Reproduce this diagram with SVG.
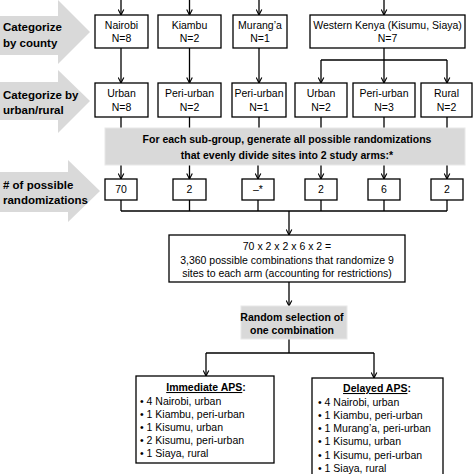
<svg xmlns="http://www.w3.org/2000/svg" width="474" height="474" viewBox="0 0 474 474">
<defs>
<marker id="ah" viewBox="0 0 10 10" refX="9" refY="5" markerWidth="7" markerHeight="7" markerUnits="userSpaceOnUse" orient="auto">
<path d="M1,1 L9,5 L1,9" fill="none" stroke="#000" stroke-width="1.6"/>
</marker>
<style>
.bx{fill:#fff;stroke:#000;stroke-width:1.3}
.gb{fill:#d9d9d9;stroke:#e8e8e8;stroke-width:1}
.ga{fill:#d9d9d9}
.t{font-family:"Liberation Sans",Arial,sans-serif;font-size:10.5px;fill:#000;text-anchor:middle}
.b{font-weight:bold}
.lab{font-family:"Liberation Sans",Arial,sans-serif;font-size:11.5px;font-weight:bold;fill:#000}
.l{font-family:"Liberation Sans",Arial,sans-serif;font-size:10.5px;fill:#000}
.c{fill:none;stroke:#000;stroke-width:1.3}
.ca{fill:none;stroke:#000;stroke-width:1.3;marker-end:url(#ah)}
</style>
</defs>
<rect width="474" height="474" fill="#fff"/>
<g id="step-labels">
<g id="arrow-county"><polygon class="ga" points="0,16 58,16 58,0 90,32 58,64 58,55 0,55"/><text class="lab" x="3" y="31">Categorize</text><text class="lab" x="3" y="47">by county</text></g>
<g id="arrow-urban"><polygon class="ga" points="0,82 58,82 58,70 90,101 58,133 58,120 0,120"/><text class="lab" x="3" y="99">Categorize by</text><text class="lab" x="3" y="114">urban/rural</text></g>
<g id="arrow-random"><polygon class="ga" points="0,172 68,172 68,160 100,191 68,222 68,212 0,212"/><text class="lab" x="3" y="189">&#35; of possible</text><text class="lab" x="3" y="204">randomizations</text></g>
</g>
<g id="connectors">
<line class="ca" x1="121" y1="0" x2="121" y2="15"/>
<line class="ca" x1="189.5" y1="0" x2="189.5" y2="15"/>
<line class="ca" x1="259" y1="0" x2="259" y2="15"/>
<line class="ca" x1="384" y1="0" x2="384" y2="15"/>
<line class="ca" x1="121" y1="48" x2="121" y2="83"/>
<line class="ca" x1="189.5" y1="48" x2="189.5" y2="83"/>
<line class="ca" x1="259" y1="48" x2="259" y2="83"/>
<line class="c" x1="384" y1="48" x2="384" y2="60"/>
<line class="c" x1="321" y1="60" x2="447" y2="60"/>
<line class="ca" x1="321" y1="60" x2="321" y2="83"/>
<line class="ca" x1="384" y1="60" x2="384" y2="83"/>
<line class="ca" x1="447" y1="60" x2="447" y2="83"/>
<line class="c" x1="121" y1="117" x2="121" y2="128"/>
<line class="c" x1="189.5" y1="117" x2="189.5" y2="128"/>
<line class="c" x1="259" y1="117" x2="259" y2="128"/>
<line class="c" x1="321" y1="117" x2="321" y2="128"/>
<line class="c" x1="384" y1="117" x2="384" y2="128"/>
<line class="c" x1="447" y1="117" x2="447" y2="128"/>
<line class="ca" x1="121" y1="165" x2="121" y2="179"/>
<line class="ca" x1="189.5" y1="165" x2="189.5" y2="179"/>
<line class="ca" x1="258" y1="165" x2="258" y2="179"/>
<line class="ca" x1="321" y1="165" x2="321" y2="179"/>
<line class="ca" x1="384" y1="165" x2="384" y2="179"/>
<line class="ca" x1="447" y1="165" x2="447" y2="179"/>
<line class="c" x1="121" y1="200" x2="121" y2="211"/>
<line class="c" x1="189.5" y1="200" x2="189.5" y2="211"/>
<line class="c" x1="258" y1="200" x2="258" y2="211"/>
<line class="c" x1="321" y1="200" x2="321" y2="211"/>
<line class="c" x1="384" y1="200" x2="384" y2="211"/>
<line class="c" x1="447" y1="200" x2="447" y2="211"/>
<line class="c" x1="121" y1="211" x2="447" y2="211"/>
<line class="ca" x1="289" y1="211" x2="289" y2="235"/>
<line class="ca" x1="289" y1="282" x2="289" y2="306"/>
<line class="c" x1="289" y1="339" x2="289" y2="353"/>
<line class="c" x1="206" y1="353" x2="374" y2="353"/>
<line class="ca" x1="206" y1="353" x2="206" y2="376"/>
<line class="ca" x1="374" y1="353" x2="374" y2="378"/>
</g>
<g id="county-nairobi"><rect class="bx" x="95" y="15" width="53" height="33"/><text class="t" x="121.5" y="29">Nairobi</text><text class="t" x="121.5" y="42">N=8</text></g>
<g id="county-kiambu"><rect class="bx" x="158" y="15" width="63" height="33"/><text class="t" x="189.5" y="29">Kiambu</text><text class="t" x="189.5" y="42">N=2</text></g>
<g id="county-muranga"><rect class="bx" x="233" y="15" width="54" height="33"/><text class="t" x="260" y="29">Murang’a</text><text class="t" x="260" y="42">N=1</text></g>
<g id="county-western"><rect class="bx" x="310" y="15" width="155" height="33"/><text class="t" x="387.5" y="29">Western Kenya (Kisumu, Siaya)</text><text class="t" x="387.5" y="42">N=7</text></g>
<g id="nairobi-urban"><rect class="bx" x="95" y="83" width="53" height="34"/><text class="t" x="121.5" y="97">Urban</text><text class="t" x="121.5" y="111">N=8</text></g>
<g id="kiambu-periurban"><rect class="bx" x="158" y="83" width="63" height="34"/><text class="t" x="189.5" y="97">Peri-urban</text><text class="t" x="189.5" y="111">N=2</text></g>
<g id="muranga-periurban"><rect class="bx" x="232" y="83" width="54" height="34"/><text class="t" x="259" y="97">Peri-urban</text><text class="t" x="259" y="111">N=1</text></g>
<g id="western-urban"><rect class="bx" x="295" y="83" width="52" height="34"/><text class="t" x="321" y="97">Urban</text><text class="t" x="321" y="111">N=2</text></g>
<g id="western-periurban"><rect class="bx" x="353" y="83" width="62" height="34"/><text class="t" x="384" y="97">Peri-urban</text><text class="t" x="384" y="111">N=3</text></g>
<g id="western-rural"><rect class="bx" x="421" y="83" width="51" height="34"/><text class="t" x="446.5" y="97">Rural</text><text class="t" x="446.5" y="111">N=2</text></g>
<g id="generate-band"><rect class="gb" x="105" y="128" width="360" height="37"/><text class="t b" x="287" y="143" font-size="12">For each sub-group, generate all possible randomizations</text><text class="t b" x="287" y="159" font-size="12">that evenly divide sites into 2 study arms:*</text></g>
<g id="rand-70"><rect class="bx" x="105" y="179" width="32" height="21"/><text class="t" x="121" y="193">70</text></g>
<g id="rand-2a"><rect class="bx" x="173" y="179" width="33" height="21"/><text class="t" x="189.5" y="193">2</text></g>
<g id="rand-dash"><rect class="bx" x="242" y="179" width="32" height="21"/><text class="t" x="258" y="193">–*</text></g>
<g id="rand-2b"><rect class="bx" x="305" y="179" width="32" height="21"/><text class="t" x="321" y="193">2</text></g>
<g id="rand-6"><rect class="bx" x="368" y="179" width="32" height="21"/><text class="t" x="384" y="193">6</text></g>
<g id="rand-2c"><rect class="bx" x="431" y="179" width="32" height="21"/><text class="t" x="447" y="193">2</text></g>
<g id="combinations"><rect class="bx" x="169" y="235" width="236" height="47"/><text class="t" x="287" y="250" font-size="11">70 x 2 x 2 x 6 x 2 =</text><text class="t" x="287" y="263.5" font-size="11">3,360 possible combinations that randomize 9</text><text class="t" x="287" y="277" font-size="11">sites to each arm (accounting for restrictions)</text></g>
<g id="random-selection"><rect class="gb" x="241" y="306" width="106" height="33"/><text class="t b" x="292" y="321" font-size="10">Random selection of</text><text class="t b" x="292" y="334" font-size="10">one combination</text></g>
<g id="immediate"><rect class="bx" x="136" y="376" width="138" height="87"/><text class="t b" x="206" y="391"><tspan text-decoration="underline">Immediate APS</tspan>:</text>
<text class="l" x="140" y="405">• 4 Nairobi, urban</text><text class="l" x="140" y="418">• 1 Kiambu, peri-urban</text><text class="l" x="140" y="431">• 1 Kisumu, urban</text><text class="l" x="140" y="444">• 2 Kisumu, peri-urban</text><text class="l" x="140" y="457">• 1 Siaya, rural</text></g>
<g id="delayed"><rect class="bx" x="312" y="378" width="131" height="100"/><text class="t b" x="377" y="392"><tspan text-decoration="underline">Delayed APS</tspan>:</text>
<text class="l" x="318" y="406">• 4 Nairobi, urban</text><text class="l" x="318" y="419">• 1 Kiambu, peri-urban</text><text class="l" x="318" y="432">• 1 Murang’a, peri-urban</text><text class="l" x="318" y="445">• 1 Kisumu, urban</text><text class="l" x="318" y="459">• 1 Kisumu, peri-urban</text><text class="l" x="318" y="472">• 1 Siaya, rural</text></g>
</svg>
